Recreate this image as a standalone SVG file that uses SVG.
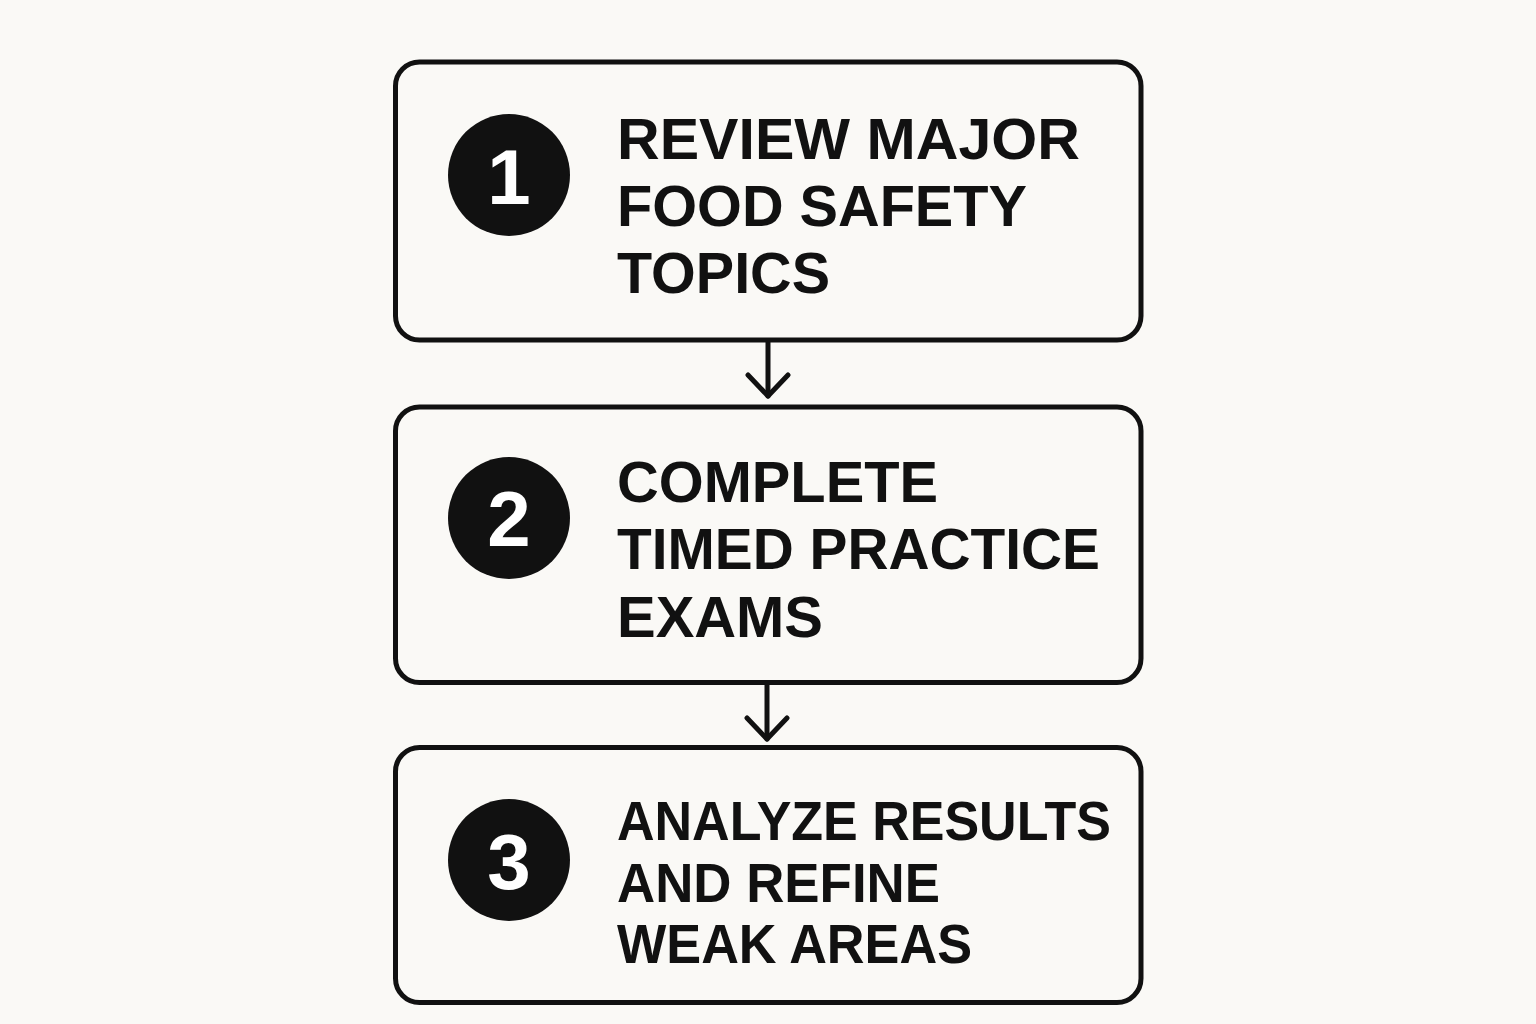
<svg xmlns="http://www.w3.org/2000/svg" width="1536" height="1024" viewBox="0 0 1536 1024">
<defs>
<style>
.box{fill:#faf9f6;stroke:#111;stroke-width:5}
.badge{fill:#111}
.num{fill:#fff;font-family:"Liberation Sans",Arial,sans-serif;font-weight:bold;font-size:78px;text-anchor:middle}
.lbl{fill:#111;font-family:"Liberation Sans",Arial,sans-serif;font-weight:bold;font-size:58px}
.lbl3{font-size:56px}
.conn{fill:none;stroke:#111;stroke-width:5;stroke-linecap:round}
</style>
<marker id="chev" markerUnits="userSpaceOnUse" viewBox="-30 -30 60 60" markerWidth="60" markerHeight="60" refX="0" refY="0" orient="auto">
<path d="M-21,-20 L0,0 L-21,20" fill="none" stroke="#111" stroke-width="5" stroke-linecap="round" stroke-linejoin="round"/>
</marker>
</defs>
<rect width="1536" height="1024" fill="#faf9f6"/>
<g id="connectors">
<path class="conn" d="M768,342 L768,396" marker-end="url(#chev)"/>
<path class="conn" d="M767,685 L767,739" marker-end="url(#chev)"/>
</g>
<g id="step1">
<rect class="box" x="395.5" y="62" width="745.5" height="278" rx="24"/>
<circle class="badge" cx="509" cy="175" r="61"/>
<text class="num" x="509" y="204">1</text>
<text class="lbl" x="617" y="159" textLength="463" lengthAdjust="spacingAndGlyphs">REVIEW MAJOR</text>
<text class="lbl" x="617" y="226" textLength="410" lengthAdjust="spacingAndGlyphs">FOOD SAFETY</text>
<text class="lbl" x="617" y="293" textLength="213" lengthAdjust="spacingAndGlyphs">TOPICS</text>
</g>
<g id="step2">
<rect class="box" x="395.5" y="407" width="745.5" height="275.5" rx="24"/>
<circle class="badge" cx="509" cy="518" r="61"/>
<text class="num" x="509" y="546">2</text>
<text class="lbl" x="617" y="502" textLength="321" lengthAdjust="spacingAndGlyphs">COMPLETE</text>
<text class="lbl" x="617" y="569" textLength="483" lengthAdjust="spacingAndGlyphs">TIMED PRACTICE</text>
<text class="lbl" x="617" y="637" textLength="206" lengthAdjust="spacingAndGlyphs">EXAMS</text>
</g>
<g id="step3">
<rect class="box" x="395.5" y="747.5" width="745.5" height="255" rx="24"/>
<circle class="badge" cx="509" cy="860" r="61"/>
<text class="num" x="509" y="889">3</text>
<text class="lbl lbl3" x="617" y="840" textLength="494" lengthAdjust="spacingAndGlyphs">ANALYZE RESULTS</text>
<text class="lbl lbl3" x="617" y="902" textLength="323" lengthAdjust="spacingAndGlyphs">AND REFINE</text>
<text class="lbl lbl3" x="617" y="963" textLength="355" lengthAdjust="spacingAndGlyphs">WEAK AREAS</text>
</g>
</svg>
